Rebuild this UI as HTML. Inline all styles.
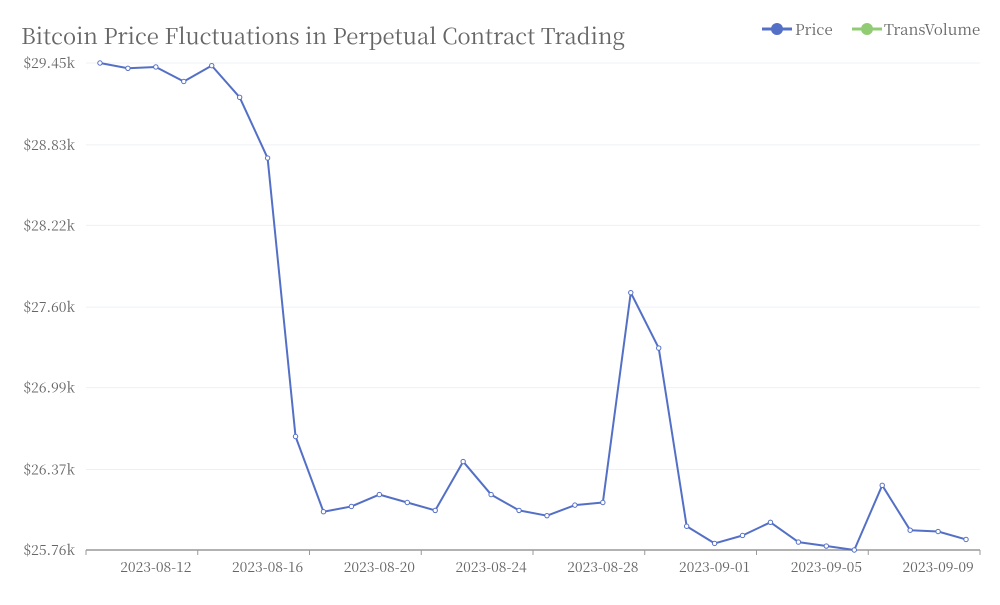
<!DOCTYPE html>
<html><head><meta charset="utf-8"><style>
body{margin:0;background:#fff;}
svg text{font-family:"Noto Serif CJK SC","Liberation Serif",serif;}
</style></head><body>
<svg id="chart" width="1000" height="600" xmlns="http://www.w3.org/2000/svg">
<text x="21" y="44" font-size="22" fill="#666">Bitcoin Price Fluctuations in Perpetual Contract Trading</text>
<g>
<line x1="762" y1="29" x2="792" y2="29" stroke="#5470c6" stroke-width="3"/>
<circle cx="777" cy="29" r="6" fill="#5470c6"/>
<text x="795" y="35" font-size="15" fill="#666">Price</text></g>
<g>
<line x1="852" y1="29" x2="882" y2="29" stroke="#91cc75" stroke-width="3"/>
<circle cx="867" cy="29" r="6" fill="#91cc75"/>
<text x="884" y="35" font-size="15" fill="#666">TransVolume</text></g>
<g id="grid"></g><g id="xaxis"></g><g id="series"></g>
</svg>
<script>
const dates=["2023-08-10","2023-08-11","2023-08-12","2023-08-13","2023-08-14","2023-08-15","2023-08-16","2023-08-17","2023-08-18","2023-08-19","2023-08-20","2023-08-21","2023-08-22","2023-08-23","2023-08-24","2023-08-25","2023-08-26","2023-08-27","2023-08-28","2023-08-29","2023-08-30","2023-08-31","2023-09-01","2023-09-02","2023-09-03","2023-09-04","2023-09-05","2023-09-06","2023-09-07","2023-09-08","2023-09-09","2023-09-10"];
const prices=[29.45,29.41,29.42,29.31,29.43,29.19,28.73,26.62,26.05,26.09,26.18,26.12,26.06,26.43,26.18,26.06,26.02,26.10,26.12,27.71,27.29,25.94,25.81,25.87,25.97,25.82,25.79,25.76,26.25,25.91,25.90,25.84];
const yTicks=[25.76,26.37,26.99,27.60,28.22,28.83,29.45];
const NS="http://www.w3.org/2000/svg";
const X0=86,X1=980,Y0=550,Y1=63,yMin=25.76,yMax=29.45;
const band=(X1-X0)/dates.length;
const xs=i=>X0+band*(i+0.5);
const ys=v=>Y0-(v-yMin)/(yMax-yMin)*(Y0-Y1);
function mk(tag,attrs,parent){const e=document.createElementNS(NS,tag);for(const k in attrs)e.setAttribute(k,attrs[k]);parent.appendChild(e);return e;}
const grid=document.getElementById('grid');
yTicks.forEach((t,i)=>{
 const y=ys(t);
 if(i>0){const l=mk('line',{x1:X0,x2:X1,y1:y,y2:y,stroke:'#eef0f4','stroke-width':1},grid);
 
 }
 const tx=mk('text',{x:75,y:y+5,'font-size':14,fill:'#666','text-anchor':'end'},grid);
 tx.textContent='$'+t.toFixed(2)+'k';
 
 
});
const xa=document.getElementById('xaxis');
const ax=mk('line',{x1:X0,x2:X1,y1:Y0,y2:Y0,stroke:'#999','stroke-width':1.5},xa);


for(let i=0;i<=dates.length;i+=4){
 const x=X0+band*i;
 const tk=mk('line',{x1:x,x2:x,y1:Y0,y2:Y0+5,stroke:'#999'},xa);
 
 
}
for(let i=2;i<dates.length;i+=4){
 const t=mk('text',{x:xs(i),y:Y0+22,'font-size':14,fill:'#666','text-anchor':'middle'},xa);
 t.textContent=dates[i];
 
 
}
const s=document.getElementById('series');
const pl=mk('polyline',{points:prices.map((v,i)=>xs(i)+','+ys(v)).join(' '),fill:'none',stroke:'#5470c6','stroke-width':2,'stroke-linejoin':'round'},s);


prices.forEach((v,i)=>{
 const c=mk('circle',{cx:xs(i),cy:ys(v),r:2.2,fill:'#fff',stroke:'#5470c6','stroke-width':1},s);
 
 
});
</script>
</body></html>
